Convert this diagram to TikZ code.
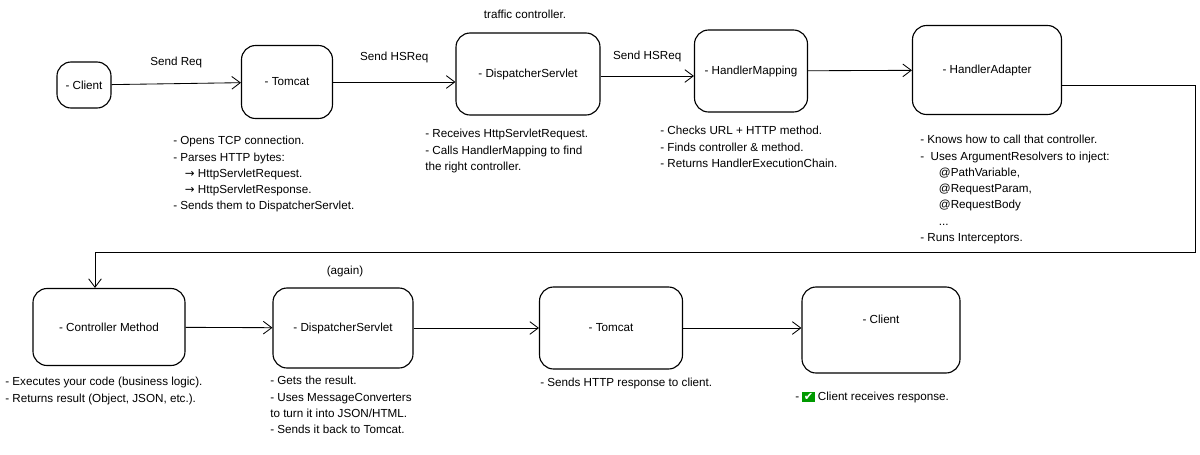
\documentclass[tikz,border=0pt]{standalone}
\usepackage{fontspec}
\setmainfont{Liberation Sans}
\newfontfamily\symfont{DejaVu Sans}
\usepackage{xcolor}
\usetikzlibrary{arrows.meta, positioning}

\begin{document}
\begin{tikzpicture}[
    x=0.025cm, y=-0.025cm,
    font=\fontsize{8.3}{11.6}\selectfont,
    box/.style={rectangle, draw, thick, rounded corners=10pt, align=center},
    note/.style={anchor=north west, align=left, inner sep=0pt},
    lbl/.style={inner sep=1pt},
    arrow/.style={-{Straight Barb[length=6pt, width=9pt]}, semithick}
]
\useasboundingbox (0,0) rectangle (1200,454);

% Row 1: Request path
\node[box, minimum width=54*0.025cm, minimum height=46*0.025cm] (client) at (84,85) {- Client};
\node[box, minimum width=91*0.025cm, minimum height=73*0.025cm] (tomcat) at (287,82) {- Tomcat};
\node[box, minimum width=144*0.025cm, minimum height=82*0.025cm] (dispatch) at (528,74) {- DispatcherServlet};
\node[box, minimum width=113*0.025cm, minimum height=82*0.025cm] (mapping) at (751,71) {- HandlerMapping};
\node[box, minimum width=149*0.025cm, minimum height=89*0.025cm] (adapter) at (987,70) {- HandlerAdapter};

% Row 2: Response path
\node[box, minimum width=152*0.025cm, minimum height=77*0.025cm] (method) at (109,327) {- Controller Method};
\node[box, minimum width=140*0.025cm, minimum height=80*0.025cm] (dispatchb) at (343,328) {- DispatcherServlet};
\node[box, minimum width=143*0.025cm, minimum height=82*0.025cm] (tomcatb) at (611,328) {- Tomcat};
\node[box, minimum width=158*0.025cm, minimum height=86*0.025cm] (clientb) at (881,330) {- Client\\[4pt]};

% Notes
\node[lbl] (traffic) at (525,14) {traffic controller.};
\node[lbl] (again) at (345,271) {(again)};
\node[note] (tomcatnote) at (173,136) {- Opens TCP connection.\\- Parses HTTP bytes:\\\quad{\symfont →} HttpServletRequest.\\\quad{\symfont →} HttpServletResponse.\\- Sends them to DispatcherServlet.};
\node[note] (dispatchnote) at (425,129) {- Receives HttpServletRequest.\\- Calls HandlerMapping to find\\the right controller.};
\node[note] (mappingnote) at (660,126) {- Checks URL + HTTP method.\\- Finds controller \& method.\\- Returns HandlerExecutionChain.};
\node[note] (adapternote) at (920,135) {- Knows how to call that controller.\\-\ \ Uses ArgumentResolvers to inject:\\\hspace{1.6em}@PathVariable,\\\hspace{1.6em}@RequestParam,\\\hspace{1.6em}@RequestBody\\\hspace{1.6em}...\\- Runs Interceptors.};
\node[note] (methodnote) at (5,377) {- Executes your code (business logic).\\- Returns result (Object, JSON, etc.).};
\node[note] (dispatchbnote) at (270,376) {- Gets the result.\\- Uses MessageConverters\\to turn it into JSON/HTML.\\- Sends it back to Tomcat.};
\node[note] (tomcatbnote) at (540,378) {- Sends HTTP response to client.};
\node[note] (clientbnote) at (795,392) {- {\setlength{\fboxsep}{1pt}\colorbox{green!60!black}{\color{white}\symfont\footnotesize ✔}} Client receives response.};

% Arrows
\draw[arrow] (client) -- node[lbl, above=10pt] {Send Req} (tomcat);
\draw[arrow] (tomcat) -- node[lbl, above=12pt] {Send HSReq} (tomcat -| dispatch.west);
\draw[arrow] (dispatch.east |- 0,76) -- node[lbl, above=9pt] {Send HSReq} (mapping.west |- 0,76);
\draw[arrow] (mapping) -- (adapter);
\draw[arrow] (adapter.east |- 0,85) -- (1195,85) -- (1195,252) -- (95,252) -- (method.north -| 95,0);
\draw[arrow] (method) -- (dispatchb);
\draw[arrow] (dispatchb) -- (tomcatb);
\draw[arrow] (tomcatb) -- (clientb.west |- tomcatb);

\end{tikzpicture}
\end{document}
